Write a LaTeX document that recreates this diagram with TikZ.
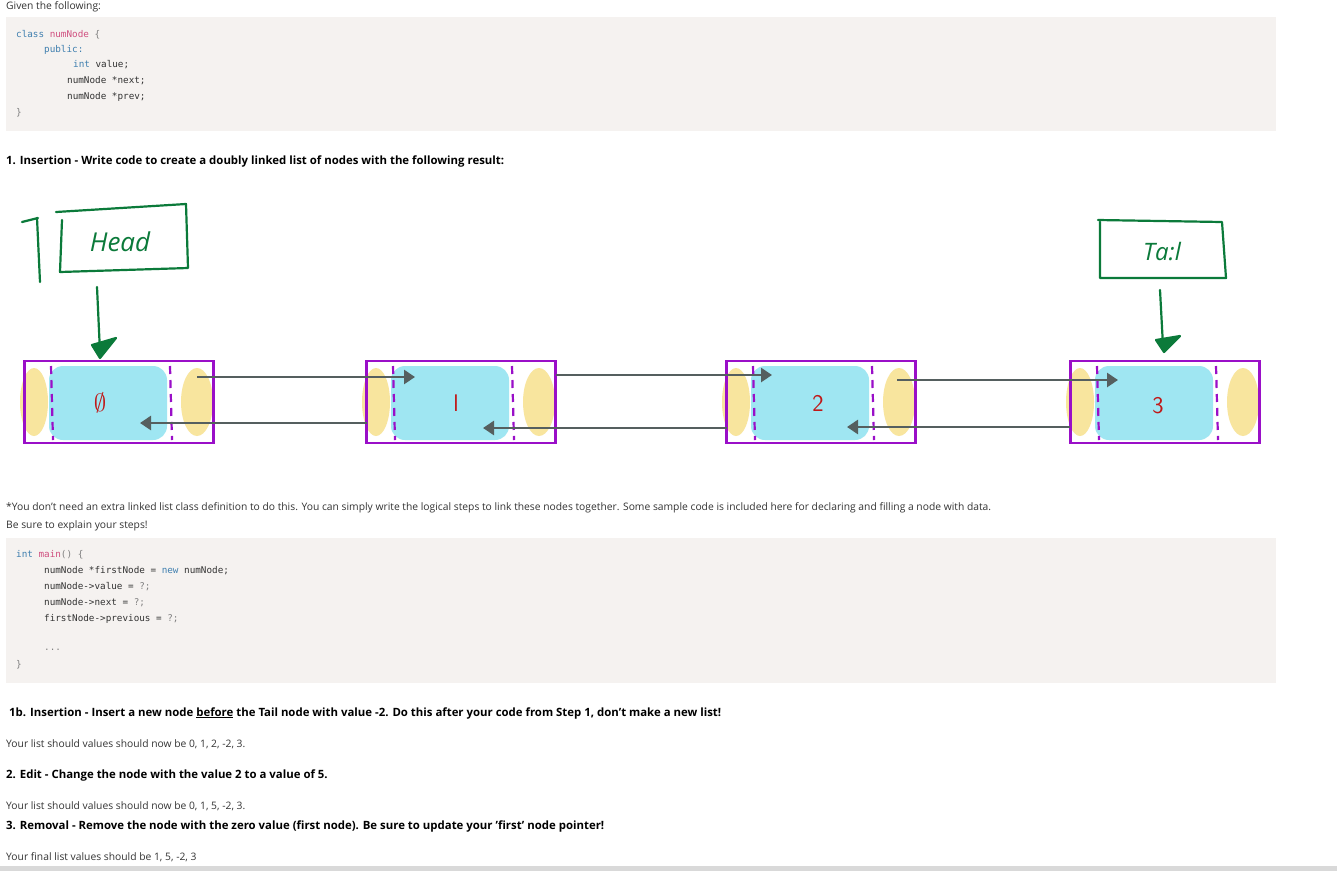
\documentclass[tikz,border=0pt]{standalone}
\usepackage{fontspec}
\setmainfont{Open Sans}
\setmonofont{DejaVu Sans Mono}
\usetikzlibrary{arrows.meta,positioning}
\definecolor{codebg}{HTML}{F5F2F0}
\definecolor{kw}{HTML}{3F7FAF}
\definecolor{pk}{HTML}{D04F7F}
\definecolor{txt}{HTML}{333333}
\definecolor{vio}{HTML}{9A0FC8}
\definecolor{blu}{HTML}{9FE6F2}
\definecolor{yel}{HTML}{F8E59E}
\definecolor{grn}{HTML}{0B7A3A}
\definecolor{arr}{HTML}{555F5F}
\definecolor{rd}{HTML}{C01818}
\tikzset{
  body/.style={anchor=west,inner sep=0,font=\fontsize{10.3}{12}\selectfont,text=txt},
  head/.style={anchor=west,inner sep=0,font=\fontsize{11.4}{13}\selectfont\bfseries,text=black},
  code/.style={anchor=west,inner sep=0,font=\ttfamily\fontsize{9.3}{11}\selectfont,text=txt},
  lnode/.style={draw=vio,line width=2.5pt,minimum width=189pt,minimum height=82pt,inner sep=0},
  link/.style={draw=arr,line width=2.8pt,-{Triangle[length=11pt,width=14pt]}},
  hand/.style={draw=grn,line width=2.2pt,line cap=round,line join=round},
  val/.style={text=rd,font=\fontsize{24}{24}\selectfont},
}
\begin{document}
\begin{tikzpicture}[x=1pt,y=-1pt]
\useasboundingbox[fill=white] (0,0) rectangle (1337,871);
\node[body] (g) at (6,7) {Given the following:};
\fill[codebg] (6,17) rectangle (1276,131);
\node[code] (c1) at (16,35) {\textcolor{kw}{class} \textcolor{pk}{numNode} \textcolor{gray}{\{}};
\node[code] (c2) at (44,50) {\textcolor{kw}{public:}};
\node[code] (c3) at (73,65) {\textcolor{kw}{int} value;};
\node[code] (c4) at (67,81) {numNode *next;};
\node[code] (c5) at (67,97) {numNode *prev;};
\node[code] (c6) at (16,113) {\textcolor{gray}{\}}};
\node[head] (h1) at (6,162) {1. Insertion - Write code to create a doubly linked list of nodes with the following result:};
% list nodes
\foreach \n/\x in {0/119,1/461,2/821,3/1165}{
  \fill[yel] (\x-85,402) ellipse (14 and 34);
  \fill[yel] (\x+78,402) ellipse (16 and 34);
  \fill[blu,rounded corners=14pt] (\x-70,366) rectangle (\x+48,440);
  \draw[vio,line width=2.2pt,dash pattern=on 8pt off 6pt] (\x-68,366) -- (\x-66,440);
  \draw[vio,line width=2.2pt,dash pattern=on 8pt off 6pt] (\x+51,366) -- (\x+53,440);
  \node[lnode] (n\n) at (\x,402) {};
}
\node[val] (v0) at (100,403) {$\emptyset$};
\node[val] (v1) at (456,403) {\textsf{l}};
\node[val] (v2) at (818,403) {\textsf{2}};
\node[val] (v3) at (1158,406) {\textsf{3}};
\coordinate (a0) at (197,377); \coordinate (b1) at (415,377);
\coordinate (a1) at (367,423); \coordinate (b0) at (140,423);
\coordinate (a2) at (556,375); \coordinate (b2) at (772,375);
\coordinate (a3) at (727,428); \coordinate (b3) at (483,428);
\coordinate (a4) at (897,380); \coordinate (b4) at (1118,380);
\coordinate (a5) at (1070,427); \coordinate (b5) at (847,427);
\draw[link] (a0) -- (b1);
\draw[link] (a1) -- (b0);
\draw[link] (a2) -- (b2);
\draw[link] (a3) -- (b3);
\draw[link] (a4) -- (b4);
\draw[link] (a5) -- (b5);
% Head / Tail
\draw[hand] (62,220) -- (60,272) -- (188,268) -- (186,204) -- (56,212) (22,222) -- (38,218);
\draw[hand] (37,218) -- (40,282);
\node[text=grn,font=\fontsize{26}{26}\selectfont\itshape] (hd) at (120,242) {Head};
\draw[hand] (97,287) -- (100,352);
\draw[hand,fill=grn] (92,345) -- (100,358) -- (116,338) -- cycle;
\draw[hand] (1100,222) -- (1100,278) -- (1226,278) -- (1222,222) -- (1098,220);
\node[text=grn,font=\fontsize{24}{24}\selectfont\itshape] (tl) at (1162,252) {Ta:l};
\draw[hand] (1160,290) -- (1163,346);
\draw[hand,fill=grn] (1156,340) -- (1164,352) -- (1180,336) -- cycle;
% text
\node[body] (t1) at (6,508) {*You don't need an extra linked list class definition to do this. You can simply write the logical steps to link these nodes together. Some sample code is included here for declaring and filling a node with data.};
\node[body] (t2) at (6,526) {Be sure to explain your steps!};
\fill[codebg] (6,538) rectangle (1276,683);
\node[code] (d1) at (16,555) {\textcolor{kw}{int} \textcolor{pk}{main}\textcolor{gray}{() \{}};
\node[code] (d2) at (44,571) {numNode *firstNode = \textcolor{kw}{new} numNode;};
\node[code] (d3) at (44,587) {numNode->value = \textcolor{gray}{?;}};
\node[code] (d4) at (44,603) {numNode->next = \textcolor{gray}{?;}};
\node[code] (d5) at (44,619) {firstNode->previous = \textcolor{gray}{?;}};
\node[code] (d6) at (44,650) {\textcolor{gray}{...}};
\node[code] (d7) at (16,665) {\textcolor{gray}{\}}};
\node[head] (h2) at (9,713) {1b. Insertion - Insert a new node \underline{before} the Tail node with value -2. Do this after your code from Step 1, don't make a new list!};
\node[body] (t3) at (6,744) {Your list should values should now be 0, 1, 2, -2, 3.};
\node[head] (h3) at (6,775) {2. Edit - Change the node with the value 2 to a value of 5.};
\node[body] (t4) at (6,806) {Your list should values should now be 0, 1, 5, -2, 3.};
\node[head] (h4) at (6,826) {3. Removal - Remove the node with the zero value (first node). Be sure to update your 'first' node pointer!};
\node[body] (t5) at (6,857) {Your final list values should be 1, 5, -2, 3};
\fill[gray!30] (0,866) rectangle (1337,871);
\end{tikzpicture}
\end{document}
